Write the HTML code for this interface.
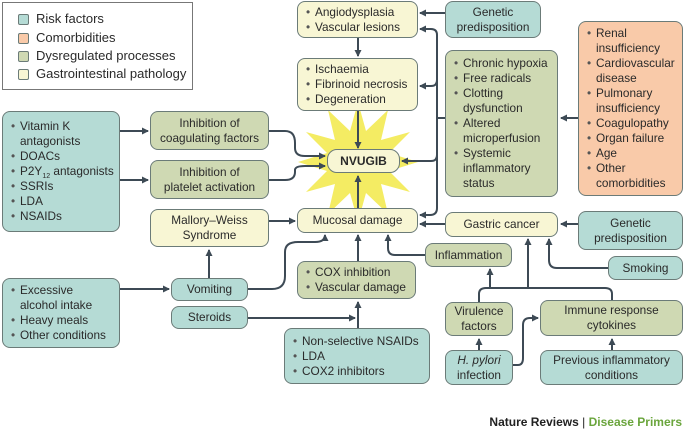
<!DOCTYPE html>
<html><head><meta charset="utf-8"><style>
body{margin:0;width:685px;height:431px;background:#fff;position:relative;overflow:hidden;font-family:"Liberation Sans",sans-serif;color:#2a2a2a}
.b{position:absolute;box-sizing:border-box;border:1px solid #6b7b78;border-radius:8px;font-size:11.8px;line-height:15px;display:flex;flex-direction:column;justify-content:center}
.c{text-align:center;align-items:center}
.t{background:#b5dbd5}.y{background:#f8f6d4}.g{background:#cfd9b3}.o{background:#f9caa9}
ul{margin:0;padding:0 0 0 8px;list-style:none}
li{position:relative;padding-left:9px}
li:before{content:"•";position:absolute;left:0;color:#555}
sub{font-size:7px;line-height:0;vertical-align:-3px}
svg{position:absolute;left:0;top:0}
.lg{position:absolute;left:2px;top:2px;width:191px;height:88px;border:1px solid #777;box-sizing:border-box;font-size:13px}
.lg div{position:absolute;left:33px}
.lg span{position:absolute;left:-18px;top:3px;width:9px;height:9px;border:1px solid #6b7b78;border-radius:2px}
</style></head><body>
<svg width="685" height="431">
<defs><marker id="a" markerWidth="7" markerHeight="7" refX="6" refY="3.5" orient="auto" markerUnits="userSpaceOnUse"><path d="M0,0 L7,3.5 L0,7 z" fill="#3d4a55"/></marker></defs>
<polygon fill="#f4ec63" points="
418,162 389,171 410,192 381,184 388,214 366,193 358,222 350,193 328,214 335,184 306,192 327,171 298,162 327,153 306,132 335,140 328,110 350,131 358,102 366,131 388,110 381,140 410,132 389,153"/>
<g stroke="#3d4a55" stroke-width="2" fill="none" marker-end="url(#a)">
<path d="M445,13 H420"/>
<path d="M358,38 V56"/>
<path d="M358,111 V148"/>
<path d="M578,118 H561"/>
<path d="M120,131 H148"/>
<path d="M120,180 H148"/>
<path d="M269,131 H285 Q295,131 295,143 V148 Q295,156 305,156 H325"/>
<path d="M269,180 H285 Q295,180 295,172 V170 Q295,166 305,166 H325"/>
<path d="M358,208 V176"/>
<path d="M269,221 H295"/>
<path d="M445,224 H420"/>
<path d="M578,224 H561"/>
<path d="M425,255 H395 Q388,255 388,248 V235"/>
<path d="M358,261 V235"/>
<path d="M209,278 V250"/>
<path d="M120,289 H169"/>
<path d="M248,289 H272 Q285,289 285,276 V252 Q285,242 298,242 H315 Q325,242 325,235"/>
<path d="M248,318 H355"/>
<path d="M358,328 V302"/>
<path d="M608,268 H557 Q549,268 549,260 V239"/>
<path d="M528,288 V239"/>
<path d="M490,288 V269"/>
<path d="M479,350 V339"/>
<path d="M612,350 V339"/>
<path d="M513,365 H518 Q523,365 523,358 V325 Q523,318 530,318 H538"/>
<path d="M437,118 V35 Q437,29 431,29 H420"/>
<path d="M437,80 Q437,86 431,86 H420"/>
<path d="M437,155 Q437,161 431,161 H402"/>
<path d="M437,118 V208 Q437,215 430,215 H420"/>
</g>
<g stroke="#3d4a55" stroke-width="2" fill="none">
<path d="M445,118 H437"/>
<path d="M479,302 V294 Q479,288 486,288 H605 Q612,288 612,294 V300"/>
</g>
</svg>
<div class="lg">
<div style="top:8px"><span class="t"></span>Risk factors</div>
<div style="top:27px"><span class="o"></span>Comorbidities</div>
<div style="top:45px"><span class="g"></span>Dysregulated processes</div>
<div style="top:63px"><span class="y"></span>Gastrointestinal pathology</div>
</div>
<div class="b y" style="left:297px;top:1px;width:121px;height:37px"><ul><li>Angiodysplasia</li><li>Vascular lesions</li></ul></div>
<div class="b t c" style="left:445px;top:1px;width:96px;height:37px">Genetic<br>predisposition</div>
<div class="b y" style="left:297px;top:58px;width:121px;height:53px"><ul><li>Ischaemia</li><li>Fibrinoid necrosis</li><li>Degeneration</li></ul></div>
<div class="b g" style="left:445px;top:50px;width:113px;height:147px"><ul><li>Chronic hypoxia</li><li>Free radicals</li><li>Clotting<br>dysfunction</li><li>Altered<br>microperfusion</li><li>Systemic<br>inflammatory<br>status</li></ul></div>
<div class="b o" style="left:578px;top:21px;width:105px;height:175px"><ul><li>Renal<br>insufficiency</li><li>Cardiovascular<br>disease</li><li>Pulmonary<br>insufficiency</li><li>Coagulopathy</li><li>Organ failure</li><li>Age</li><li>Other<br>comorbidities</li></ul></div>
<div class="b t" style="left:2px;top:111px;width:118px;height:121px"><ul><li>Vitamin K<br>antagonists</li><li>DOACs</li><li>P2Y<sub>12</sub> antagonists</li><li>SSRIs</li><li>LDA</li><li>NSAIDs</li></ul></div>
<div class="b g c" style="left:150px;top:111px;width:119px;height:39px">Inhibition of<br>coagulating factors</div>
<div class="b g c" style="left:150px;top:160px;width:119px;height:39px">Inhibition of<br>platelet activation</div>
<div class="b y c" style="left:327px;top:149px;width:73px;height:24px;font-weight:bold;font-size:12px;border-radius:10px">NVUGIB</div>
<div class="b y c" style="left:150px;top:209px;width:119px;height:38px">Mallory–Weiss<br>Syndrome</div>
<div class="b y c" style="left:297px;top:208px;width:121px;height:25px">Mucosal damage</div>
<div class="b y c" style="left:445px;top:212px;width:113px;height:25px">Gastric cancer</div>
<div class="b t c" style="left:578px;top:211px;width:105px;height:39px">Genetic<br>predisposition</div>
<div class="b g c" style="left:425px;top:243px;width:87px;height:24px">Inflammation</div>
<div class="b t c" style="left:608px;top:256px;width:75px;height:24px">Smoking</div>
<div class="b g" style="left:297px;top:261px;width:119px;height:38px"><ul><li>COX inhibition</li><li>Vascular damage</li></ul></div>
<div class="b t" style="left:2px;top:278px;width:118px;height:70px"><ul><li>Excessive<br>alcohol intake</li><li>Heavy meals</li><li>Other conditions</li></ul></div>
<div class="b t c" style="left:171px;top:278px;width:77px;height:23px">Vomiting</div>
<div class="b t c" style="left:171px;top:306px;width:77px;height:23px">Steroids</div>
<div class="b t" style="left:284px;top:328px;width:146px;height:56px"><ul><li>Non-selective NSAIDs</li><li>LDA</li><li>COX2 inhibitors</li></ul></div>
<div class="b g c" style="left:445px;top:302px;width:68px;height:34px">Virulence<br>factors</div>
<div class="b g c" style="left:540px;top:300px;width:143px;height:36px">Immune response<br>cytokines</div>
<div class="b t c" style="left:445px;top:350px;width:68px;height:35px"><i>H. pylori</i>infection</div>
<div class="b t c" style="left:540px;top:350px;width:143px;height:35px">Previous inflammatory<br>conditions</div>
<div style="position:absolute;right:3px;top:415px;font-size:12px;font-weight:bold;color:#222">Nature Reviews <span style="font-weight:normal">|</span> <span style="color:#6aa53c">Disease Primers</span></div>
</body></html>
